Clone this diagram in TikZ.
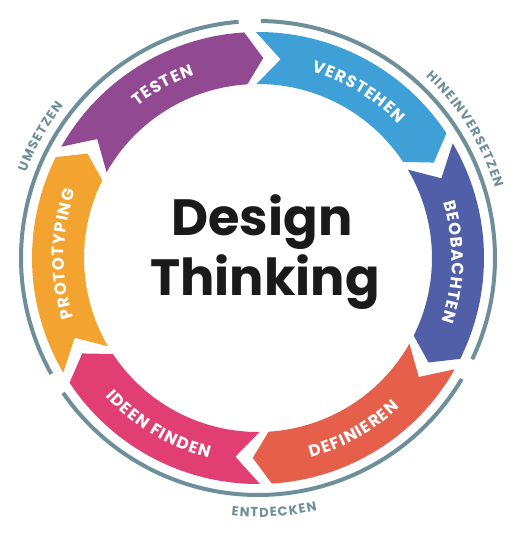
\documentclass[tikz,border=0pt]{standalone}
\usepackage{fontspec}
\setmainfont{Poppins}
\usepackage{xcolor}
\usepackage{tikz}
\definecolor{testpurple}{RGB}{145, 73, 146}
\definecolor{verblue}{RGB}{62, 160, 214}
\definecolor{beoindigo}{RGB}{80, 95, 168}
\definecolor{defred}{RGB}{230, 95, 75}
\definecolor{ideenpink}{RGB}{225, 62, 115}
\definecolor{protoorange}{RGB}{242, 163, 48}
\definecolor{ringgrey}{RGB}{110, 143, 153}
\definecolor{titleblack}{RGB}{26, 26, 26}
\usetikzlibrary{decorations.text}

% band radii (pt)
\def\rIn{174pt}
\def\rMid{200pt}
\def\rOut{226pt}
% fonts for the arc labels
\newcommand{\seglabfont}{\fontsize{16.5pt}{19pt}\selectfont\bfseries\color{white}\kern1.1pt}
\newcommand{\ringlabfont}{\fontsize{13pt}{15pt}\selectfont\bfseries\color{ringgrey}\kern1.2pt}
% curved arrow: #1 start angle, #2 end angle, #3 colour
\newcommand{\ringarrow}[3]{%
  \pgfmathsetmacro\aTail{#1-1.5}%
  \pgfmathsetmacro\aNotch{#1-8.5}%
  \pgfmathsetmacro\aHead{#2+1.5}%
  \pgfmathsetmacro\aTip{#2-3.5}%
  \fill[#3] (\aTail:\rOut) arc[start angle=\aTail, end angle=\aHead, radius=\rOut]
    -- (\aTip:\rMid) -- (\aHead:\rIn)
    arc[start angle=\aHead, end angle=\aTail, radius=\rIn]
    -- (\aNotch:\rMid) -- cycle;}

\begin{document}
\begin{tikzpicture}[
    ring/.style={draw=ringgrey, line width=4pt},
    seglabel/.style={decorate, decoration={text along path, text align=center,
                  text={|\seglabfont|#1}}},
    ringlabel/.style={decorate, decoration={text along path, text align=center,
                  text={|\ringlabfont|#1}}},
    titletext/.style={font=\fontsize{51pt}{60pt}\selectfont\bfseries,
                  text=titleblack, inner sep=0pt, anchor=base}
]
    \useasboundingbox (-258pt,-283pt) rectangle (262pt,258pt);

    % Outer ring
    \draw[ring] (94.7:237pt) arc[start angle=94.7, end angle=209.3, radius=237pt];
    \draw[ring] (89.3:237pt) arc[start angle=89.3, end angle=-25.3, radius=237pt];
    \draw[ring] (-30.7:237pt) arc[start angle=-30.7, end angle=-145.3, radius=237pt];

    % Ring labels
    \path[ringlabel=UMSETZEN] (191:247pt) arc[start angle=191, end angle=111, radius=247pt];
    \path[ringlabel=HINEINVERSETZEN] (72:247pt) arc[start angle=72, end angle=-8, radius=247pt];
    \path[ringlabel=ENTDECKEN] (-126.5:259pt) arc[start angle=-126.5, end angle=-46.5, radius=259pt];

    % Phases
    \ringarrow{152}{92}{testpurple}
    \ringarrow{92}{32}{verblue}
    \ringarrow{32}{-28}{beoindigo}
    \ringarrow{-28}{-88}{defred}
    \ringarrow{-88}{-148}{ideenpink}
    \ringarrow{212}{152}{protoorange}

    % Phase labels
    \path[seglabel=TESTEN] (159:194pt) arc[start angle=159, end angle=79, radius=194pt];
    \path[seglabel=VERSTEHEN] (99:194pt) arc[start angle=99, end angle=19, radius=194pt];
    \path[seglabel=BEOBACHTEN] (39:194pt) arc[start angle=39, end angle=-41, radius=194pt];
    \path[seglabel=DEFINIEREN] (-101:206pt) arc[start angle=-101, end angle=-21, radius=206pt];
    \path[seglabel=IDEEN FINDEN] (-161:206pt) arc[start angle=-161, end angle=-81, radius=206pt];
    \path[seglabel=PROTOTYPING] (219:194pt) arc[start angle=219, end angle=139, radius=194pt];

    % Title
    \node[titletext] (design) at (4pt,23pt) {Design};
    \node[titletext] (thinking) at (7pt,-37pt) {Thinking};
\end{tikzpicture}
\end{document}
